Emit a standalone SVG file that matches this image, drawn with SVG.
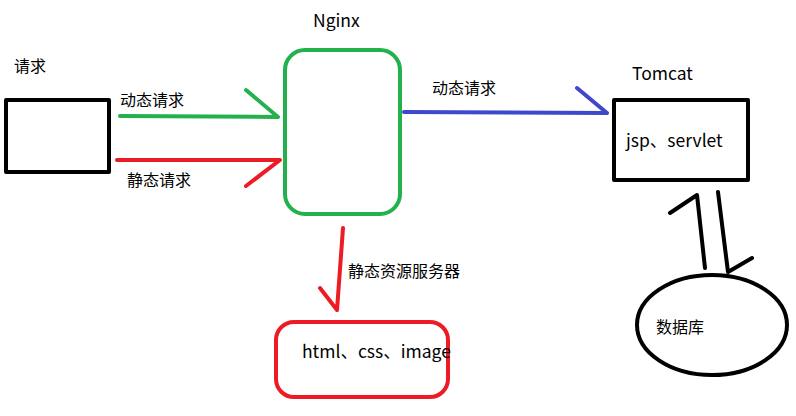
<svg xmlns="http://www.w3.org/2000/svg" width="796" height="416" viewBox="0 0 796 416">
<style>
text{font-family:"Noto Sans CJK SC","Liberation Sans",sans-serif;font-size:16px;fill:#000}
.l{font-size:17.5px}
.n{fill:none;stroke-width:4;stroke-linecap:round;stroke-linejoin:round}
</style>
<rect width="796" height="416" fill="#fff"/>
<g id="client"><rect class="n" x="6" y="100" width="103" height="72" stroke="#000"/><text x="14" y="72">请求</text></g>
<g id="nginx"><rect class="n" x="285" y="50" width="115" height="164" rx="20" stroke="#22b14c"/><text class="l" x="313" y="27">Nginx</text></g>
<g id="tomcat"><rect class="n" x="614" y="100" width="134" height="80" stroke="#000"/><text class="l" x="632" y="80">Tomcat</text><text class="l" x="626" y="147">jsp、servlet</text></g>
<g id="static"><rect class="n" x="276" y="322" width="172" height="75" rx="18" stroke="#ed1c24"/><text class="l" x="302" y="358">html、css、image</text></g>
<g id="db"><ellipse class="n" cx="712" cy="325" rx="75" ry="50" stroke="#000"/><text x="656" y="333">数据库</text></g>
<g id="connectors">
<path class="n" stroke="#22b14c" d="M120 116L278 117M246 90L278 117"/>
<text x="120" y="106">动态请求</text>
<path class="n" stroke="#ed1c24" d="M117 160L280 160L246 186"/>
<text x="127" y="186">静态请求</text>
<path class="n" stroke="#3f48cc" d="M404 112L607 113M577 88L607 113"/>
<text x="432" y="94">动态请求</text>
<path class="n" stroke="#ed1c24" d="M343 228L337 310M320 288L337 310"/>
<text x="348" y="277">静态资源服务器</text>
<path class="n" stroke="#000" d="M705 268L697 195L670 213M718 192L728 272L752 258"/>
</g>
</svg>
